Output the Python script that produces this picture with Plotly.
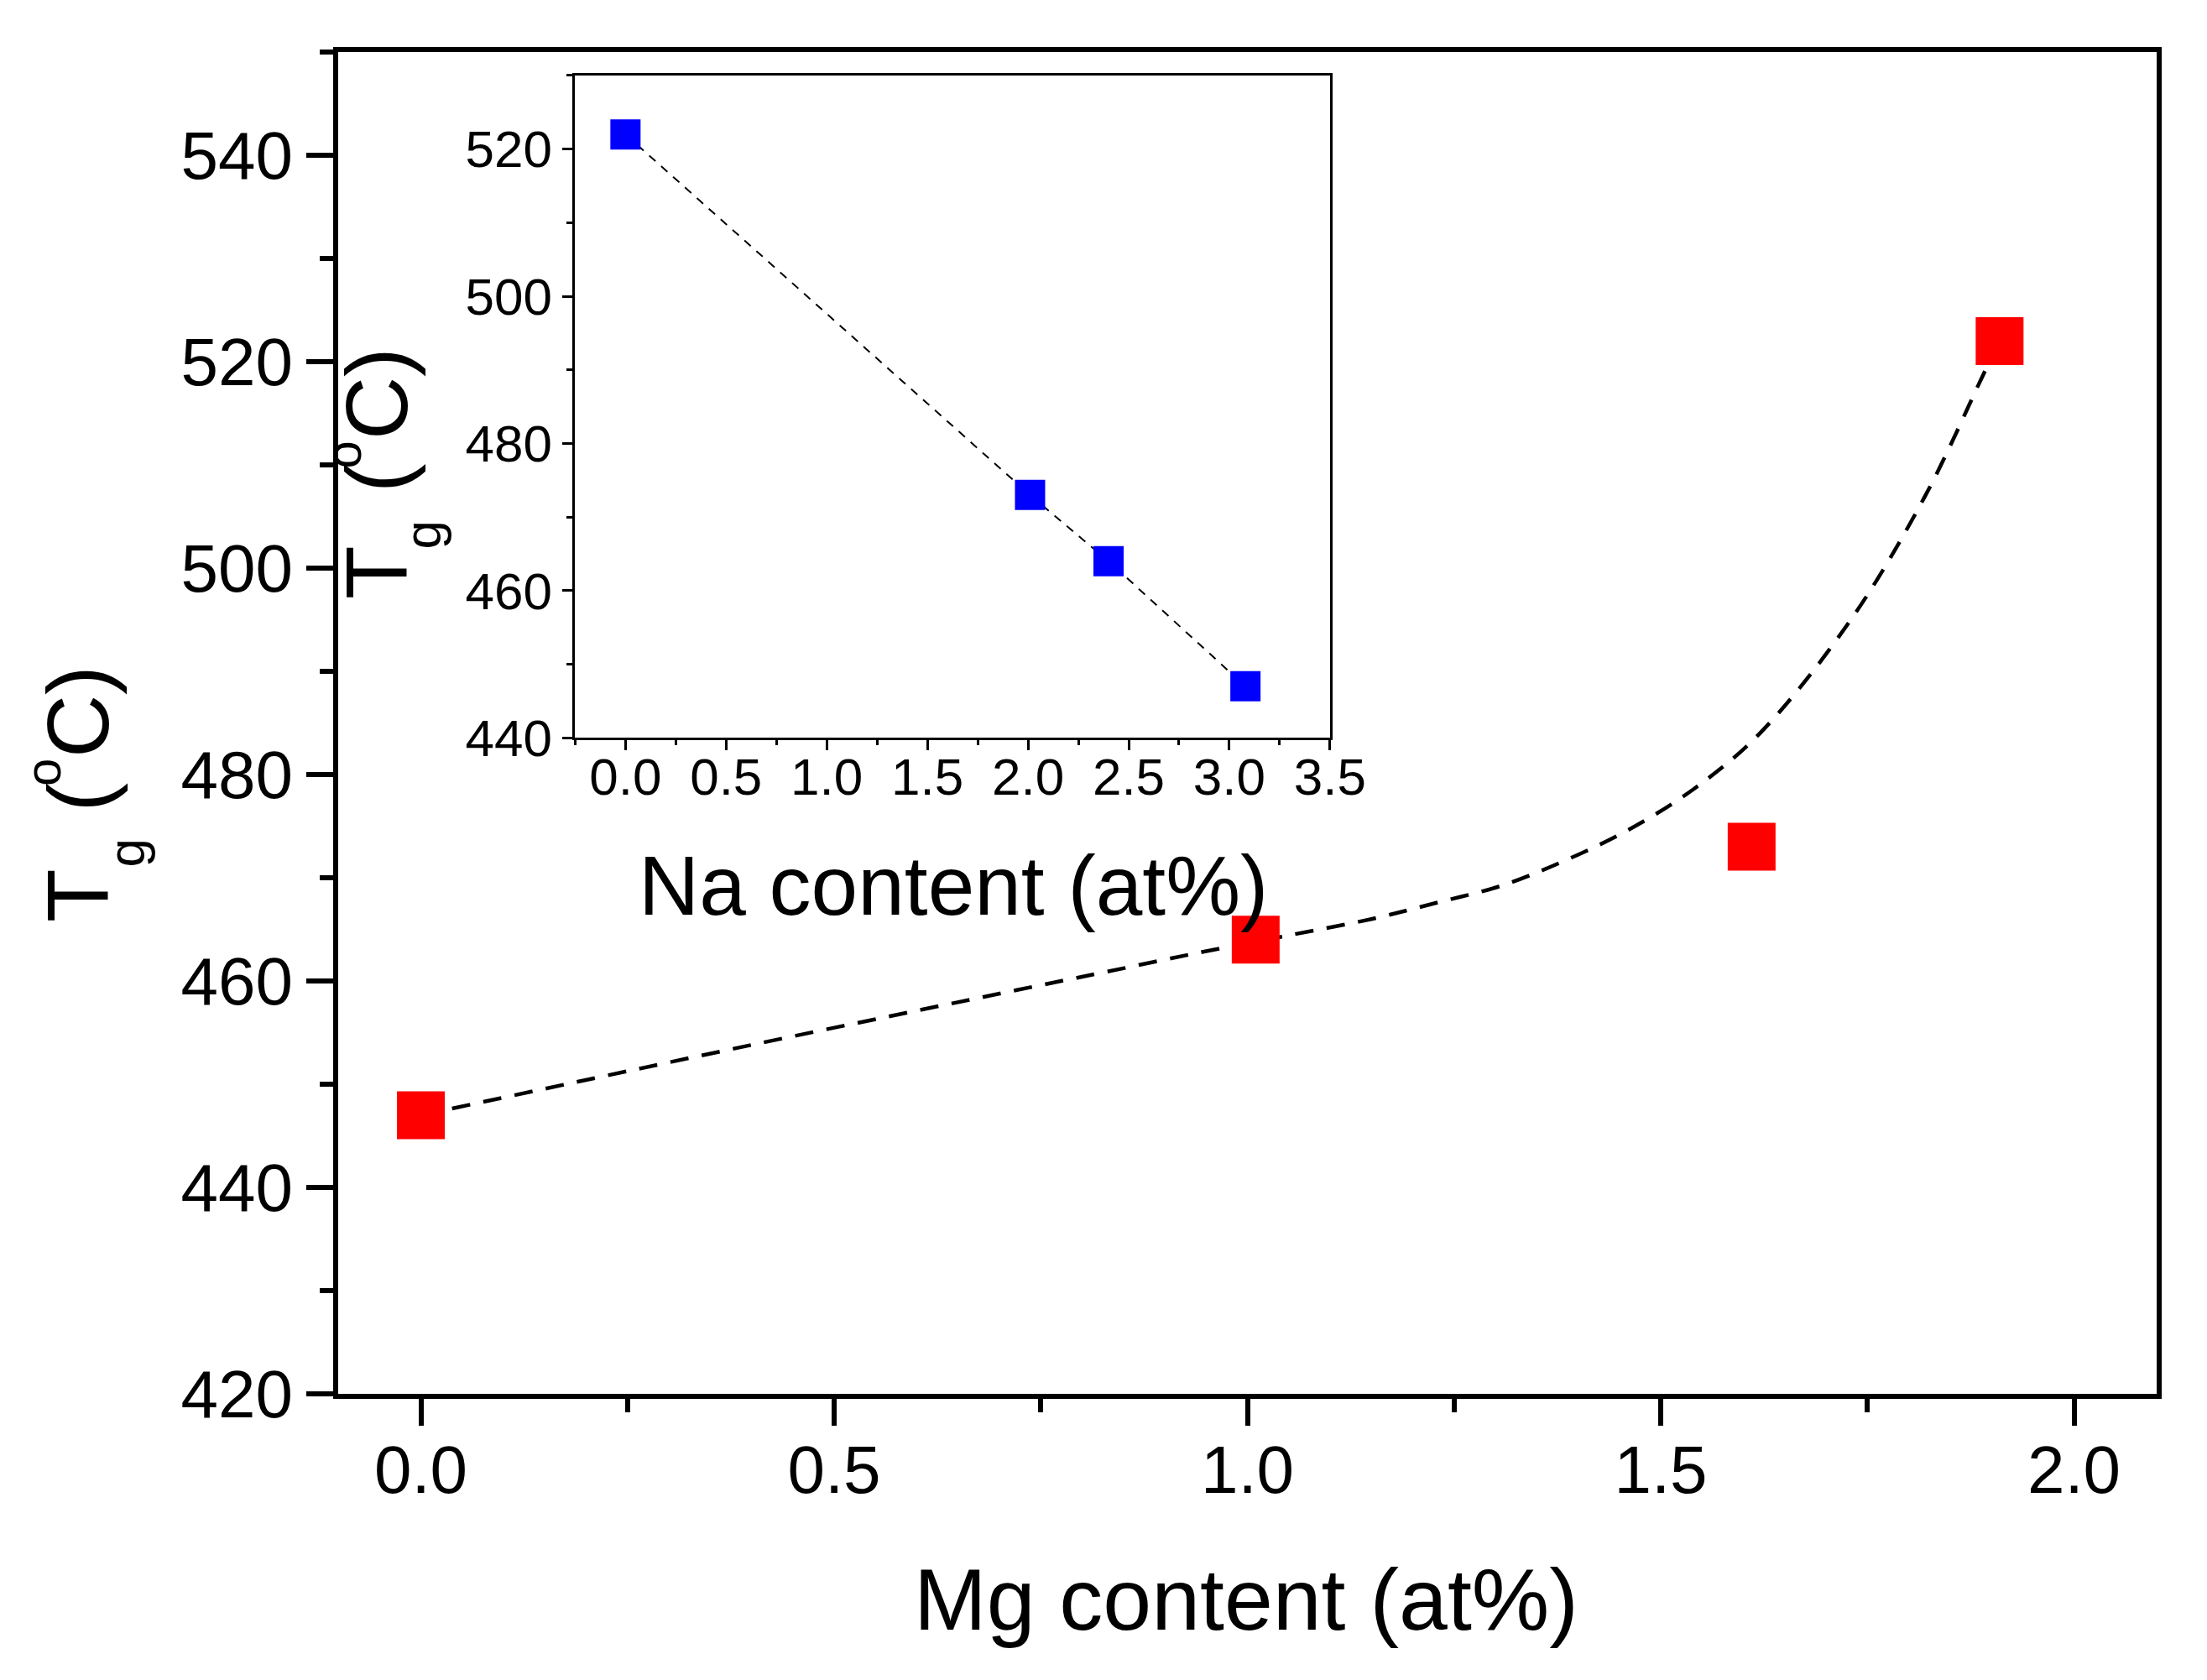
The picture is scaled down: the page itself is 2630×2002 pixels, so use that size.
import plotly.graph_objects as go

# ---- data ----
mg_content = [0.0, 1.01, 1.61, 1.91]
mg_tg = [447, 464, 473, 522]

# dashed guide curve of the main plot
curve_x = [0.0, 0.40, 0.72, 0.83, 0.945, 1.055, 1.15, 1.23, 1.31, 1.385, 1.46,
           1.54, 1.62, 1.73, 1.82, 1.89, 1.91]
curve_y = [447.0, 453.8, 459.1, 460.9, 462.8, 464.5, 466.0, 467.6, 469.3, 471.7, 474.6,
           478.6, 484.0, 495.0, 507.0, 518.7, 522.0]

na_content = [0.0, 2.01, 2.40, 3.08]
na_tg = [522, 473, 464, 447]

FONT = "Liberation Sans, Arial, sans-serif"
W, H = 2630, 2002
ML, MR, MT, MB = 403, 60, 62, 341
PW, PH = W - ML - MR, H - MT - MB


def px2paper(px, py):
    return (px - ML) / PW, (H - MB - py) / PH


fig = go.Figure()

fig.add_trace(go.Scatter(
    x=curve_x, y=curve_y, mode="lines",
    line=dict(color="black", width=4.5, dash="22px,16px", shape="spline", smoothing=1.0),
    xaxis="x", yaxis="y", hoverinfo="skip", showlegend=False))

fig.add_trace(go.Scatter(
    x=mg_content, y=mg_tg, mode="markers",
    marker=dict(symbol="square", size=57, color="#FF0000", line=dict(width=0)),
    xaxis="x", yaxis="y", showlegend=False))

fig.add_trace(go.Scatter(
    x=na_content, y=na_tg, mode="lines+markers",
    line=dict(color="black", width=2, dash="10px,9px"),
    marker=dict(symbol="square", size=36, color="#0000FF", line=dict(width=0)),
    xaxis="x2", yaxis="y2", showlegend=False))

main_ax = dict(showgrid=False, zeroline=False, showline=True, linecolor="black",
               linewidth=6, mirror=True, ticks="outside", ticklen=32, tickwidth=6,
               tickcolor="black", tickfont=dict(family=FONT, size=80, color="black"))
inset_ax = dict(showgrid=False, zeroline=False, showline=True, linecolor="black",
                linewidth=3, mirror=True, ticks="outside", ticklen=12, tickwidth=3,
                tickcolor="black", tickfont=dict(family=FONT, size=62, color="black"))

fig.update_layout(
    width=W, height=H,
    margin=dict(l=ML, r=MR, t=MT, b=MB, pad=0),
    paper_bgcolor="white", plot_bgcolor="white",
    xaxis=dict(domain=[0, 1], anchor="y", range=[-0.1, 2.1], tick0=0, dtick=0.5,
               tickformat=".1f", ticklabelstandoff=-16,
               minor=dict(tick0=0, dtick=0.25, ticks="outside", ticklen=16, tickwidth=6,
                          tickcolor="black"),
               **main_ax),
    yaxis=dict(domain=[0, 1], anchor="x", range=[420, 550], tick0=420, dtick=20,
               minor=dict(tick0=420, dtick=10, ticks="outside", ticklen=16, tickwidth=6,
                          tickcolor="black"),
               **main_ax),
    xaxis2=dict(domain=[0.1303, 0.5454], anchor="y2", range=[-0.25, 3.5], tick0=0,
                dtick=0.5, tickformat=".1f", ticklabelstandoff=-22,
                minor=dict(tick0=0, dtick=0.25, ticks="outside", ticklen=6, tickwidth=3,
                           tickcolor="black"),
                **inset_ax),
    yaxis2=dict(domain=[0.4889, 0.9825], anchor="x2", range=[440, 530], tick0=440,
                dtick=20,
                minor=dict(tick0=440, dtick=10, ticks="outside", ticklen=7, tickwidth=3,
                           tickcolor="black"),
                **inset_ax),
    showlegend=False,
)


def label(text, px, py, size, angle=0):
    x, y = px2paper(px, py)
    fig.add_annotation(text=text, x=x, y=y, xref="paper", yref="paper",
                       showarrow=False, xanchor="center", yanchor="middle",
                       textangle=angle, borderpad=0,
                       font=dict(family=FONT, size=size, color="black"))


# horizontal axis titles
label("Mg content (at%)", 1484.5, 1906.5, 104)
label("Na content (at%)", 1136, 1055, 100)

# vertical titles "Tg (oC)" built from pieces (subscript / superscript placed like the reference)
for (dx_t, y_t, dx_g, y_g, y_p, dx_o, y_o, y_c) in [
    (93, 1067, 149.5, 1017, 950.5, 51.6, 920.5, 848),     # main plot
    (449, 682, 502.5, 638, 570, 408.6, 542, 469),          # inset
]:
    label("T", dx_t, y_t, 104, -90)
    label("g", dx_g, y_g, 62, -90)
    label("(", dx_t, y_p, 104, -90)
    label("o", dx_o, y_o, 60, -90)
    label("C)", dx_t, y_c, 104, -90)

fig.write_html("out.html", config={"displayModeBar": False},
               post_script="document.body.style.margin='0';")
